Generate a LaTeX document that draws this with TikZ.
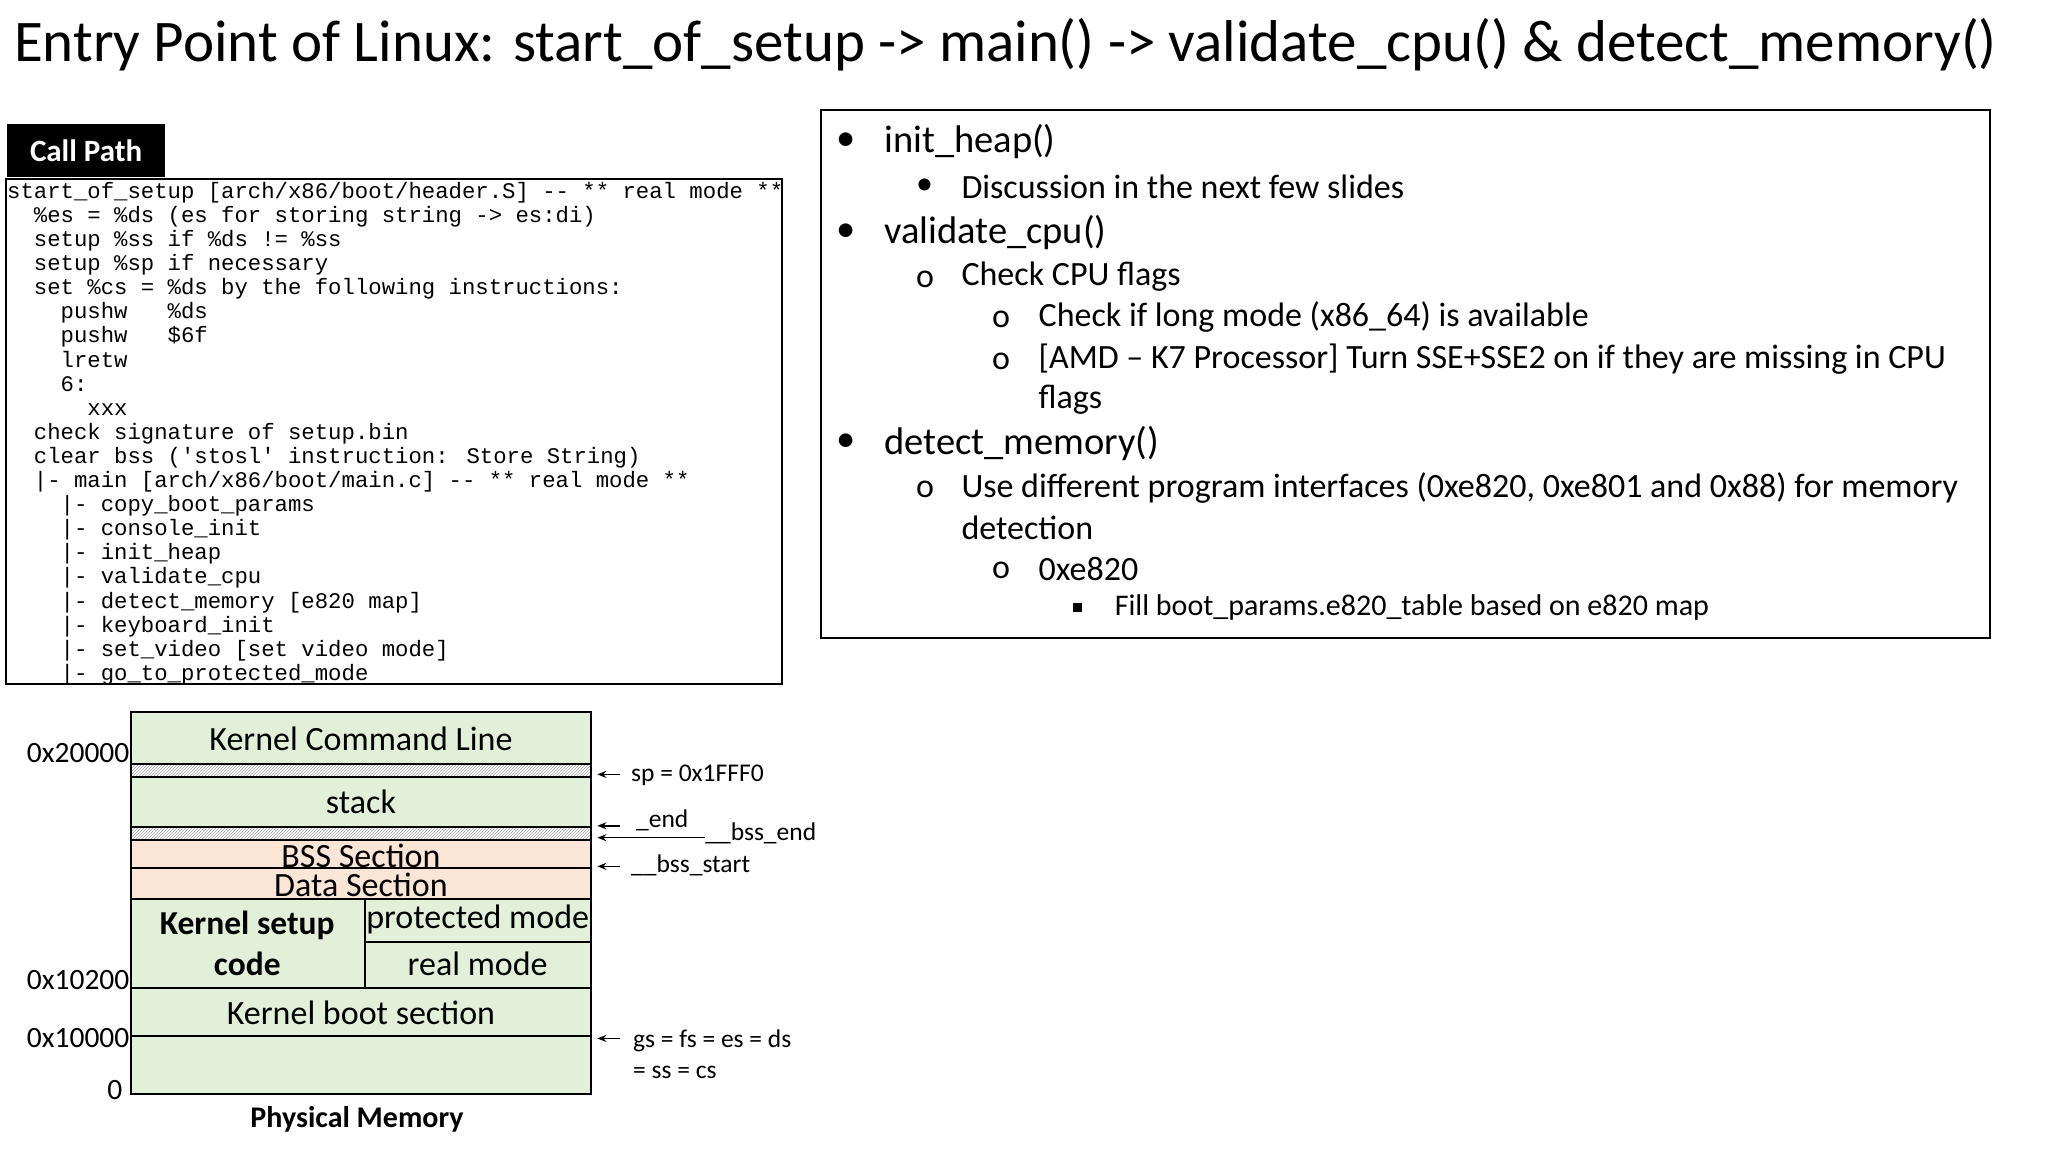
\documentclass[tikz,border=0pt]{standalone}
\usepackage{fontspec}
\setmainfont{Carlito}
\newfontfamily\codefont{Liberation Mono}
\usetikzlibrary{patterns,arrows.meta}
\definecolor{memgreen}{HTML}{E2EFD9}
\definecolor{mempeach}{HTML}{FBE5D6}
\newcommand{\fs}[1]{\fontsize{#1}{#1}\selectfont}
\begin{document}
\begin{tikzpicture}[x=0.989pt,y=-0.989pt,
  l1/.style={anchor=west,inner sep=0pt,font=\fs{38.5}},
  l2/.style={anchor=west,inner sep=0pt,font=\fs{34}},
  l3/.style={anchor=west,inner sep=0pt,font=\fs{30}},
  mem/.style={draw=black,line width=2pt},
  memtxt/.style={font=\fs{34},inner sep=0pt},
  addr/.style={anchor=east,font=\fs{29.5},inner sep=0pt},
  lab/.style={anchor=west,font=\fs{25.5},inner sep=0pt},
  arr/.style={-{Stealth[length=9pt,width=7pt]},line width=1.5pt},
  hatch/.style={mem,pattern=north east lines,pattern color=gray!70}]
\useasboundingbox (0,0) rectangle (2070.8,1164.8);
\fill[white] (0,0) rectangle (2070.8,1164.8);
% title
\node[anchor=west,inner sep=0pt,font=\fs{59}] (title) at (14,45) {Entry Point of Linux: start\_of\_setup -> main() -> validate\_cpu() \& detect\_memory()};
% call path
\node[fill=black,text=white,font=\bfseries\fs{31},anchor=north west,minimum width=158pt,minimum height=53pt,inner sep=0pt] (cp) at (7,125) {Call Path};
\draw[line width=2pt] (6,181) rectangle (791,692);
\node[anchor=north west,inner sep=0pt,align=left,font=\codefont\fontsize{22.3}{24.1}\selectfont] (code) at (7,184) {start\_of\_setup [arch/x86/boot/header.S] -- ** real mode **\\
~~\%es = \%ds (es for storing string -> es:di)\\
~~setup \%ss if \%ds != \%ss\\
~~setup \%sp if necessary\\
~~set \%cs = \%ds by the following instructions:\\
~~~~pushw~~~\%ds\\
~~~~pushw~~~\$6f\\
~~~~lretw\\
~~~~6:\\
~~~~~~xxx\\
~~check signature of setup.bin\\
~~clear bss ('stosl' instruction: Store String)\\
~~|- main [arch/x86/boot/main.c] -- ** real mode **\\
~~~~|- copy\_boot\_params\\
~~~~|- console\_init\\
~~~~|- init\_heap\\
~~~~|- validate\_cpu\\
~~~~|- detect\_memory [e820 map]\\
~~~~|- keyboard\_init\\
~~~~|- set\_video [set video mode]\\
~~~~|- go\_to\_protected\_mode};
% right box
\draw[line width=2pt] (830,111) rectangle (2012,645);
\node[l1] (b1) at (846,143) {•}; \node[l1] (t1) at (894,143) {init\_heap()};
\node[l2] (b2) at (926,189) {•}; \node[l2] (t2) at (972,189) {Discussion in the next few slides};
\node[l1] (b3) at (846,235) {•}; \node[l1] (t3) at (894,235) {validate\_cpu()};
\node[l2] (b4) at (926,282) {o}; \node[l2] (t4) at (972,280) {Check CPU flags};
\node[l2] (b5) at (1003,323) {o}; \node[l2] (t5) at (1050,321) {Check if long mode (x86\_64) is available};
\node[l2] (b6) at (1003,365) {o}; \node[l2] (t6) at (1050,363) {[AMD – K7 Processor] Turn SSE+SSE2 on if they are missing in CPU};
\node[l2] (t6b) at (1050,404) {flags};
\node[l1] (b7) at (846,448) {•}; \node[l1] (t7) at (894,448) {detect\_memory()};
\node[l2] (b8) at (926,495) {o}; \node[l2] (t8) at (972,493) {Use different program interfaces (0xe820, 0xe801 and 0x88) for memory};
\node[l2] (t8b) at (972,534) {detection};
\node[l2] (b9) at (1003,577) {o}; \node[l2] (t9) at (1050,575) {0xe820};
\node[fill=black,minimum size=9pt,inner sep=0pt] (b10) at (1089,614) {}; \node[l3] (t10) at (1127,614) {Fill boot\_params.e820\_table based on e820 map};
% memory
\draw[mem,fill=memgreen] (132,720) rectangle (598,773);
\draw[hatch] (132,773) rectangle (598,786);
\draw[mem,fill=memgreen] (132,786) rectangle (598,836);
\draw[hatch] (132,836) rectangle (598,849);
\draw[mem,fill=mempeach] (132,849) rectangle (598,878);
\draw[mem,fill=mempeach] (132,878) rectangle (598,909);
\draw[mem,fill=memgreen] (132,909) rectangle (369,999);
\draw[mem,fill=memgreen] (369,909) rectangle (598,952);
\draw[mem,fill=memgreen] (369,952) rectangle (598,999);
\draw[mem,fill=memgreen] (132,999) rectangle (598,1048);
\draw[mem,fill=memgreen] (132,1048) rectangle (598,1106);
\node[memtxt] (kcl) at (365,747) {Kernel Command Line};
\node[memtxt] (stk) at (365,811) {stack};
\node[memtxt] (bss) at (365,865) {BSS Section};
\node[memtxt] (dat) at (365,895) {Data Section};
\node[memtxt,font=\bfseries\fs{33.5},align=center] (ks) at (250,954) {Kernel setup\\[8pt]code};
\node[memtxt] (pm) at (483,930) {protected mode};
\node[memtxt] (rm) at (483,975) {real mode};
\node[memtxt] (kb) at (365,1024) {Kernel boot section};
\node[addr] (a1) at (131,761) {0x20000};
\node[addr] (a2) at (131,991) {0x10200};
\node[addr] (a3) at (131,1050) {0x10000};
\node[addr] (a4) at (124,1102) {0};
\node[font=\bfseries\fs{30}] (phys) at (361,1132) {Physical Memory};
% pointers
\coordinate (p1) at (604,783); \coordinate (p2) at (604,835); \coordinate (p3) at (604,847);
\coordinate (p4) at (604,876); \coordinate (p5) at (604,1050);
\node[lab] (sp) at (638,784) {sp = 0x1FFF0};
\node[lab] (end) at (643,829) {\_end};
\node[lab] (bend) at (713,843) {\_\_bss\_end};
\node[lab] (bstart) at (638,875) {\_\_bss\_start};
\node[lab,align=left] (gs) at (640,1066) {gs = fs = es = ds\\[6pt]= ss = cs};
\coordinate (q1) at (627,783); \coordinate (q2) at (627,835); \coordinate (q3) at (713,847);
\coordinate (q4) at (627,876); \coordinate (q5) at (627,1050);
\draw[arr] (q1) -- (p1);
\draw[arr] (q2) -- (p2);
\draw[arr] (q3) -- (p3);
\draw[arr] (q4) -- (p4);
\draw[arr] (q5) -- (p5);
\end{tikzpicture}
\end{document}
